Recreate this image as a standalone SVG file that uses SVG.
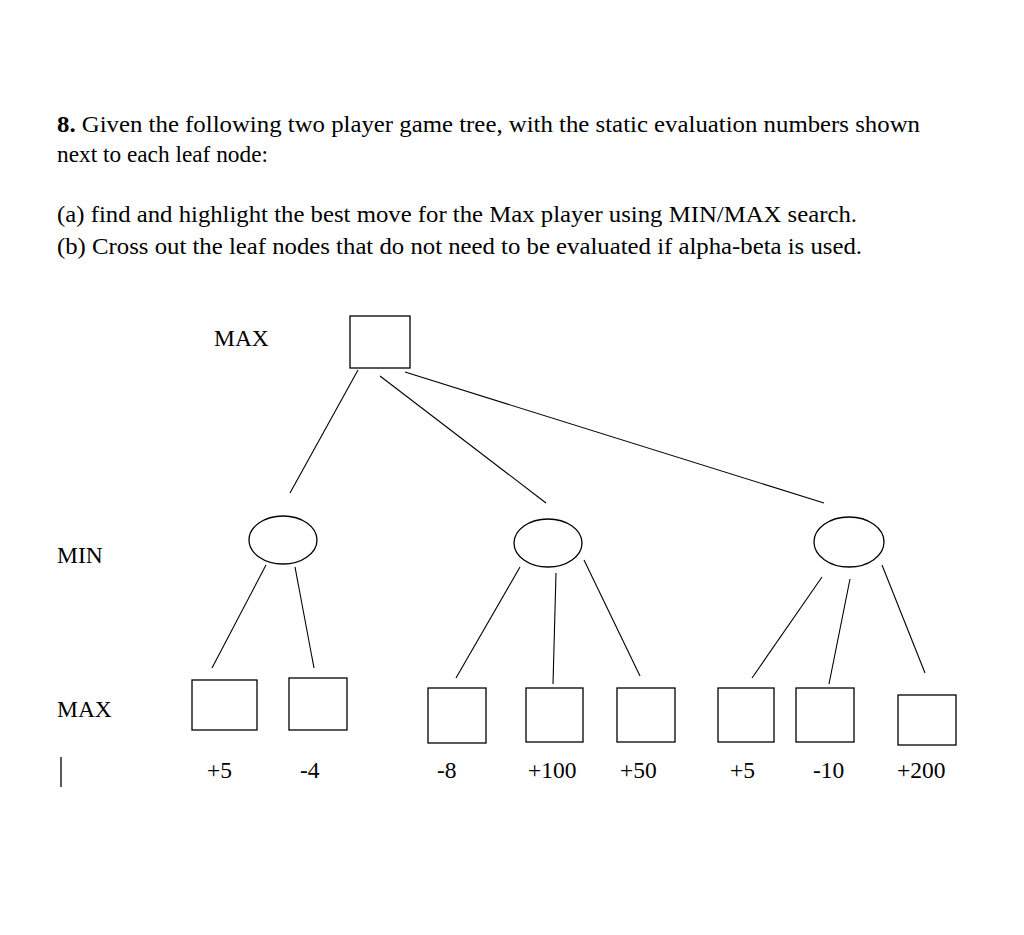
<svg xmlns="http://www.w3.org/2000/svg" width="1024" height="935" viewBox="0 0 1024 935">
<style>
text{font-family:"Liberation Serif","Times New Roman",serif;font-size:23.5px;fill:#000}
.n{fill:#fff;stroke:#000;stroke-width:1.3}
#edges line{stroke:#000;stroke-width:1.1}
</style>
<rect width="1024" height="935" fill="#fff"/>
<text x="57" y="132" textLength="863" lengthAdjust="spacingAndGlyphs"><tspan font-weight="bold">8.</tspan> Given the following two player game tree, with the static evaluation numbers shown</text>
<text x="57" y="162" textLength="211" lengthAdjust="spacingAndGlyphs">next to each leaf node:</text>
<text x="57" y="222" textLength="800" lengthAdjust="spacingAndGlyphs">(a) find and highlight the best move for the Max player using MIN/MAX search.</text>
<text x="57" y="254" textLength="805" lengthAdjust="spacingAndGlyphs">(b) Cross out the leaf nodes that do not need to be evaluated if alpha-beta is used.</text>
<text x="214" y="346">MAX</text>
<text x="57" y="563">MIN</text>
<text x="57" y="717">MAX</text>
<line x1="61" y1="757" x2="61" y2="787" stroke="#000" stroke-width="1.3"/>
<g id="edges">
<line x1="358" y1="370" x2="290" y2="493"/>
<line x1="380" y1="376" x2="546" y2="503"/>
<line x1="405" y1="372" x2="824" y2="503"/>
<line x1="266" y1="565" x2="212" y2="668"/>
<line x1="295" y1="567" x2="314" y2="668"/>
<line x1="520" y1="567" x2="456" y2="678"/>
<line x1="556" y1="573" x2="553" y2="684"/>
<line x1="584" y1="560" x2="640" y2="676"/>
<line x1="822" y1="577" x2="752" y2="678"/>
<line x1="850" y1="579" x2="829" y2="684"/>
<line x1="882" y1="565" x2="925" y2="673"/>
</g>
<g id="root"><rect class="n" x="350" y="316" width="60" height="52"/></g>
<g id="min1"><ellipse class="n" cx="283" cy="540" rx="34" ry="24"/></g>
<g id="min2"><ellipse class="n" cx="548" cy="543" rx="34" ry="24"/></g>
<g id="min3"><ellipse class="n" cx="849" cy="542" rx="35" ry="25"/></g>
<g id="leaf1"><rect class="n" x="192" y="680" width="65" height="50"/><text x="207" y="778">+5</text></g>
<g id="leaf2"><rect class="n" x="289" y="678" width="58" height="52"/><text x="300" y="778">-4</text></g>
<g id="leaf3"><rect class="n" x="428" y="688" width="58" height="55"/><text x="437" y="778">-8</text></g>
<g id="leaf4"><rect class="n" x="526" y="688" width="57" height="54"/><text x="528" y="778">+100</text></g>
<g id="leaf5"><rect class="n" x="617" y="688" width="58" height="54"/><text x="620" y="778">+50</text></g>
<g id="leaf6"><rect class="n" x="718" y="688" width="56" height="54"/><text x="730" y="778">+5</text></g>
<g id="leaf7"><rect class="n" x="796" y="688" width="58" height="54"/><text x="813" y="778">-10</text></g>
<g id="leaf8"><rect class="n" x="898" y="695" width="58" height="50"/><text x="897" y="778">+200</text></g>
</svg>
